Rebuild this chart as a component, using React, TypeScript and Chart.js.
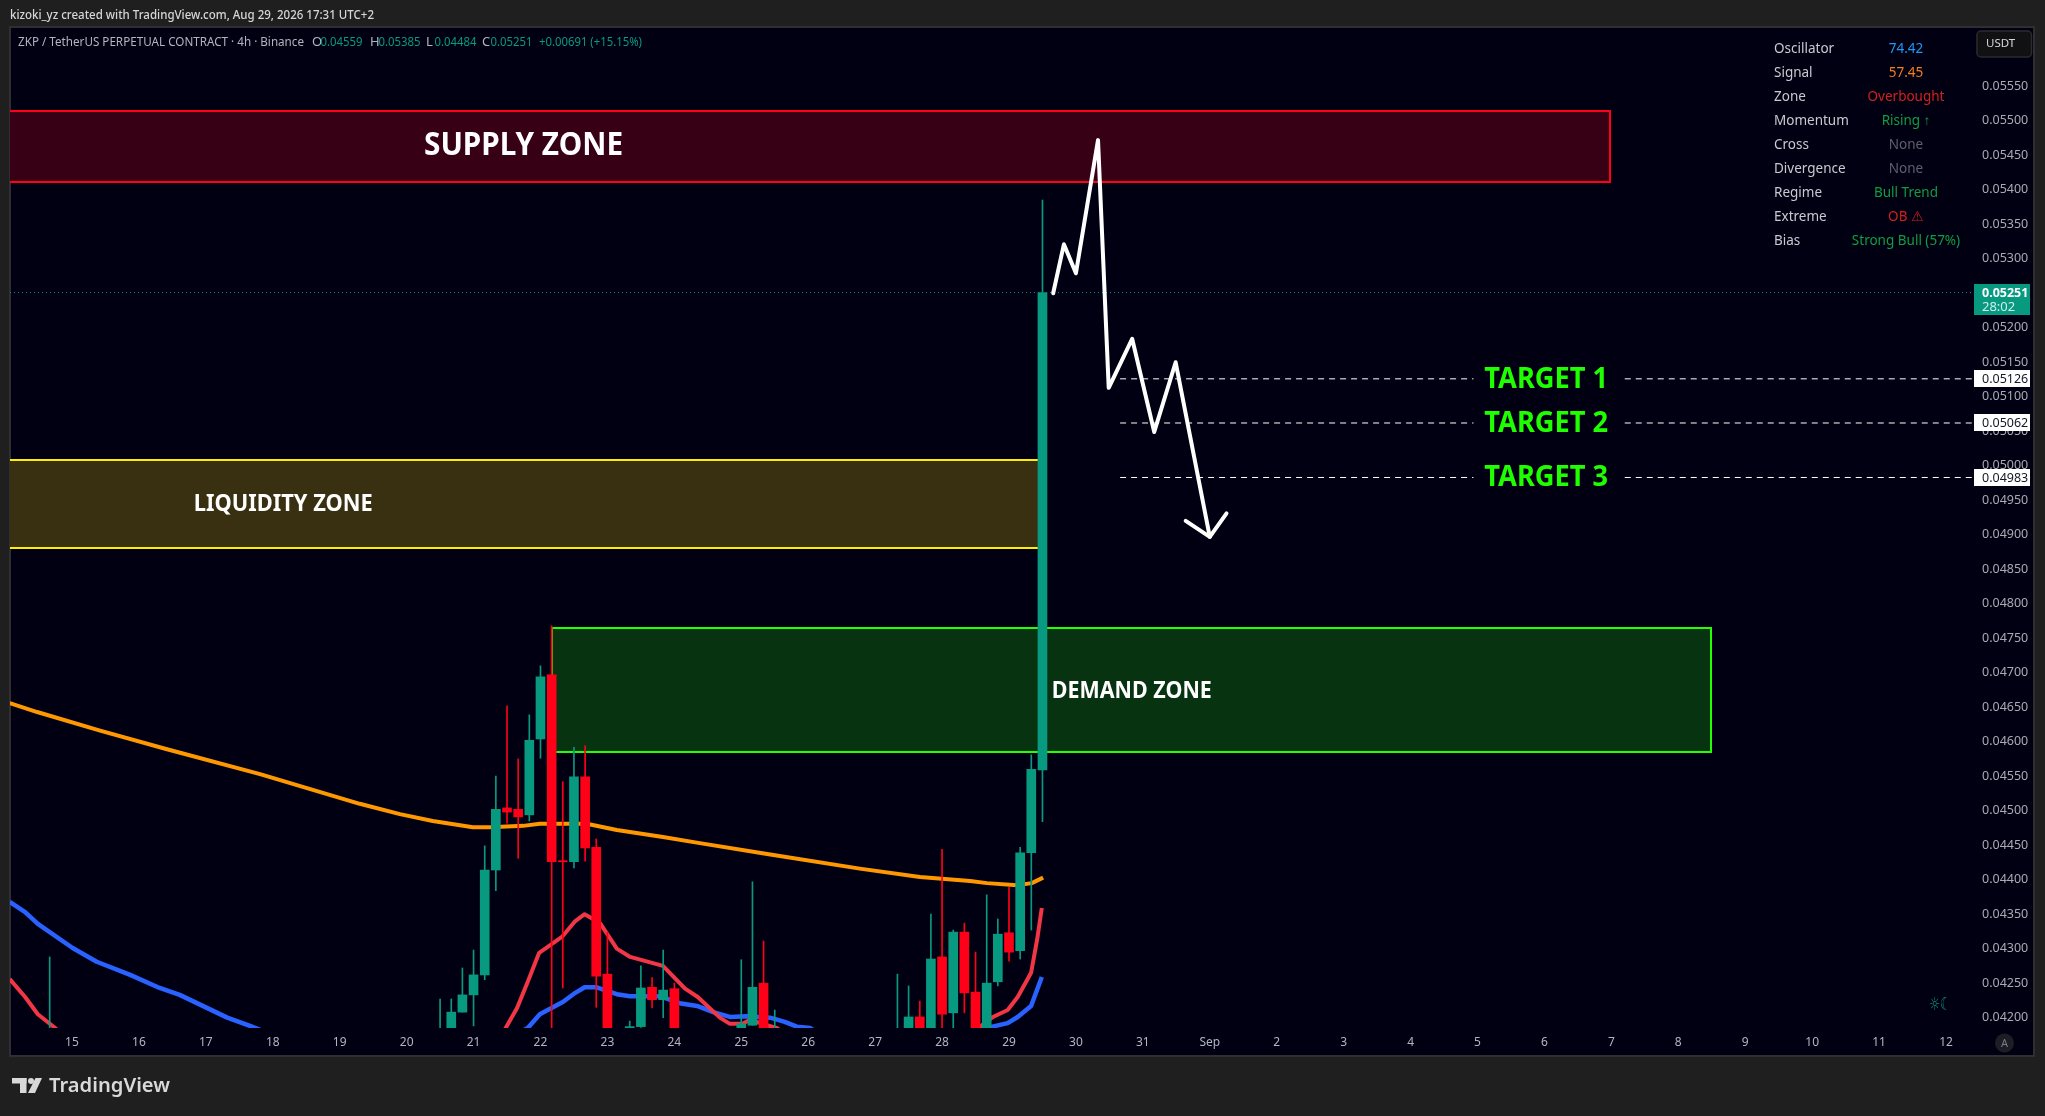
import React, { useEffect, useRef } from "react";
import { Chart, registerables } from "chart.js";

Chart.register(...registerables);

// ---- price axis / time axis
const priceMin = 0.04185;
const priceMax = 0.05636;
const dayMin = 14.074;
const dayMax = 43.418;
const dayTickLabels = ["15","16","17","18","19","20","21","22","23","24","25","26","27","28","29","30","31","Sep","2","3","4","5","6","7","8","9","10","11","12"];

// ---- candles (values below the visible window are estimates)
const candleDays = [14.667,20.5,20.667,20.833,21,21.167,21.333,21.5,21.667,21.833,22,22.167,22.333,22.5,22.667,22.833,23,23.333,23.5,23.667,23.833,24,25,25.167,25.333,25.5,27.333,27.5,27.667,27.833,28,28.167,28.333,28.5,28.667,28.833,29,29.167,29.333,29.5];
const candleOpen = [0.0417,0.0417,0.0417,0.04208,0.04233,0.04262,0.04414,0.04504,0.04502,0.04494,0.04604,0.04697,0.04427,0.04426,0.04549,0.04447,0.04263,0.0417,0.04187,0.04244,0.04226,0.04242,0.0417,0.04189,0.0425,0.0417,0.0417,0.0417,0.04201,0.0417,0.04288,0.04207,0.04324,0.04237,0.0417,0.04252,0.04323,0.04297,0.04439,0.04559];
const candleClose = [0.0418,0.0418,0.04208,0.04233,0.04262,0.04414,0.04502,0.04498,0.04491,0.04602,0.04694,0.04426,0.04426,0.04549,0.04446,0.0426,0.0417,0.04187,0.04243,0.04226,0.0424,0.0417,0.04191,0.04244,0.0417,0.0418,0.0418,0.04201,0.0417,0.04285,0.04205,0.04324,0.04236,0.0417,0.0425,0.04321,0.04295,0.04439,0.0456,0.05251];
const candleHigh = [0.04288,0.04227,0.04227,0.04272,0.04298,0.04449,0.0455,0.04652,0.04575,0.04639,0.0471,0.04768,0.04542,0.04592,0.04594,0.04459,0.04324,0.04195,0.04275,0.04258,0.04298,0.0425,0.04284,0.04397,0.04311,0.04211,0.04263,0.04246,0.04224,0.0435,0.04444,0.04327,0.04337,0.04295,0.04378,0.04343,0.04389,0.04447,0.04581,0.05385];
const candleLow = [0.0415,0.0415,0.0415,0.04208,0.04188,0.04255,0.04384,0.04482,0.04431,0.04485,0.04576,0.0415,0.04243,0.04417,0.04427,0.04215,0.0415,0.0415,0.04186,0.04214,0.042,0.0415,0.0415,0.04189,0.0415,0.0415,0.0415,0.0415,0.0415,0.0415,0.0415,0.0415,0.04207,0.0415,0.0415,0.04246,0.04282,0.04285,0.04327,0.04484];

// ---- moving averages
const orangeDays = [14.07,14.48,15.42,16.42,17.81,19.3,19.9,20.39,20.99,21.25,21.74,21.99,22.69,23.14,23.83,24.38,25.41,26.77,27.67,28.42,28.67,29.12,29.34,29.51];
const orangeVals = [0.04656,0.04643,0.04616,0.04589,0.04553,0.0451,0.04495,0.04485,0.04476,0.04476,0.04478,0.04481,0.04481,0.04472,0.04462,0.04453,0.04437,0.04416,0.04404,0.04398,0.04395,0.04392,0.04395,0.04403];
const blueDays = [14.07,14.3,14.49,15.01,15.37,15.87,16.31,16.61,17.32,17.66,17.9,19.8,21.81,21.99,22.34,22.52,22.66,22.84,23.14,23.34,23.79,24.08,24.34,24.58,24.83,25.08,25.43,25.65,25.83,26.03,27.5,28.75,28.98,29.13,29.33,29.49];
const blueVals = [0.04368,0.04353,0.04336,0.04301,0.04281,0.04262,0.04243,0.04233,0.042,0.04188,0.04179,0.0408,0.04185,0.04205,0.04223,0.04236,0.04244,0.04244,0.04234,0.04231,0.04231,0.04221,0.04217,0.04208,0.04201,0.04202,0.042,0.04194,0.04187,0.04185,0.0408,0.04187,0.04192,0.04201,0.04217,0.04259];
const redDays = [14.07,14.3,14.49,14.75,17,20.5,21.48,21.65,21.81,21.98,22.32,22.52,22.66,22.89,23.14,23.34,23.68,23.83,24.16,24.35,24.68,24.83,25.02,25.13,25.38,25.53,27.5,28.57,28.76,28.98,29.13,29.33,29.42,29.49];
const redVals = [0.04256,0.0423,0.04205,0.04185,0.0395,0.04,0.04185,0.04214,0.04252,0.04294,0.04317,0.0434,0.0435,0.04337,0.043,0.04288,0.04279,0.04275,0.04242,0.0423,0.042,0.04191,0.04191,0.04197,0.04189,0.04185,0.0405,0.04187,0.04201,0.04211,0.0423,0.04265,0.04313,0.04359];

// ---- hand-drawn forecast
const pathDays = [29.66,29.82,30.0,30.33,30.49,30.84,31.17,31.49,32.0];
const pathVals = [0.0525,0.05321,0.05279,0.05472,0.05113,0.05184,0.05049,0.0515,0.04897];
const arrowDays = [31.64,32.0,32.25];
const arrowVals = [0.0492,0.04897,0.04931];

// ---- levels and zones
const lastPrice = 0.05251;
const lastPriceLabel = "0.05251";
const countdownLabel = "28:02";
const targetPrices = [0.05126, 0.05062, 0.04983];
const targetLabels = ["TARGET 1", "TARGET 2", "TARGET 3"];
const targetLineDays = [30.66, 35.94, 38.2, 43.418];
const targetTextDay = 36.1;
const zoneNames = ["SUPPLY ZONE", "LIQUIDITY ZONE", "DEMAND ZONE"];
const zoneFromDay = [13.9, 13.9, 22.17];
const zoneToDay = [37.98, 29.5, 39.49];
const zoneTop = [0.05514, 0.05008, 0.04765];
const zoneBottom = [0.05411, 0.04881, 0.04585];
const zoneTextDay = [20.26, 16.82, 29.64];
const zoneTextPrice = [0.05465, 0.04946, 0.04675];

// ---- table
const tableNames = ["Oscillator","Signal","Zone","Momentum","Cross","Divergence","Regime","Extreme","Bias"];
const tableValues = ["74.42","57.45","Overbought","Rising ↑","None","None","Bull Trend","OB ⚠","Strong Bull (57%)"];
const tableColors = ["#2196f3","#f57c1f","#d3201f","#0f9d40","#5d606b","#5d606b","#0f9d40","#d3201f","#0f9d40"];

const FONT = '"Noto Sans", sans-serif';
const UP = "#089981";
const DOWN = "#ff0018";

const zip = (xs: number[], ys: number[]) => xs.map((x, i) => ({ x, y: ys[i] }));

function line(data: any[], color: string, width: number, order: number, extra: any = {}) {
  return { type: "line", data, borderColor: color, borderWidth: width, pointRadius: 0, tension: 0, spanGaps: false, order, borderJoinStyle: "round", ...extra };
}

const decor = {
  id: "decor",
  beforeDraw(chart: any) {
    const c = chart.ctx;
    c.save();
    c.fillStyle = "#1f1f1f";
    c.fillRect(0, 0, 2045, 1116);
    c.fillStyle = "#010013";
    c.fillRect(10, 27, 2024, 1029);
    c.strokeStyle = "#2e2e33";
    c.lineWidth = 2;
    c.strokeRect(10, 27, 2024, 1029);
    c.restore();
  },
  beforeDatasetsDraw(chart: any) {
    const { ctx: c, scales, chartArea: a } = chart;
    const fills = ["#380014", "#383010", "#073310"];
    const strokes = ["#ff0018", "#ffee00", "#22ff00"];
    c.save();
    c.beginPath();
    c.rect(a.left, a.top, a.right - a.left, a.bottom - a.top);
    c.clip();
    zoneNames.forEach((_, i) => {
      const x0 = Math.round(scales.x.getPixelForValue(zoneFromDay[i]));
      const x1 = Math.round(scales.x.getPixelForValue(zoneToDay[i]));
      const y0 = Math.round(scales.y.getPixelForValue(zoneTop[i]));
      const y1 = Math.round(scales.y.getPixelForValue(zoneBottom[i]));
      c.fillStyle = fills[i];
      c.fillRect(x0, y0, x1 - x0, y1 - y0);
      c.strokeStyle = strokes[i];
      c.lineWidth = 2;
      c.strokeRect(x0, y0, x1 - x0, y1 - y0);
    });
    c.restore();
  },
  afterDraw(chart: any) {
    const { ctx: c, scales } = chart;
    const T = (s: string, x: number, y: number, font: string, color: string, align: any = "left", maxW?: number) => {
      c.font = font;
      c.fillStyle = color;
      c.textAlign = align;
      c.textBaseline = "middle";
      if (maxW) c.fillText(s, x, y, maxW);
      else c.fillText(s, x, y);
    };
    c.save();
    // header
    T("kizoki_yz created with TradingView.com, Aug 29, 2026 17:31 UTC+2", 10, 15.5, `500 13px ${FONT}`, "#d6d6d6", "left", 364);
    T("ZKP / TetherUS PERPETUAL CONTRACT · 4h · Binance", 18, 42.5, `13px ${FONT}`, "#b2b5be", "left", 286);
    const ohlc: [string, string, number][] = [["O", "0.04559", 312], ["H", "0.05385", 370], ["L", "0.04484", 426], ["C", "0.05251", 482]];
    ohlc.forEach(([k, v, x]) => {
      T(k, x, 42.5, `13px ${FONT}`, "#b2b5be");
      T(v, x + 8.5, 42.5, `13px ${FONT}`, UP, "left", 42);
    });
    T("+0.00691 (+15.15%)", 539, 42.5, `13px ${FONT}`, UP, "left", 103);

    // zone labels
    const zoneFonts = [`bold 32px ${FONT}`, `bold 23.5px ${FONT}`, `bold 23.5px ${FONT}`];
    const zoneWidths = [199, 179, 160];
    zoneNames.forEach((name, i) => {
      T(name, scales.x.getPixelForValue(zoneTextDay[i]), scales.y.getPixelForValue(zoneTextPrice[i]) + 1, zoneFonts[i], "#ffffff", "left", zoneWidths[i]);
    });

    // target labels and price boxes
    targetPrices.forEach((p, i) => {
      const y = scales.y.getPixelForValue(p);
      T(targetLabels[i], scales.x.getPixelForValue(targetTextDay), y + 1, `bold 28px ${FONT}`, "#1eff00", "left", 124);
      c.fillStyle = "#ffffff";
      c.fillRect(1974, Math.round(y - 8.5), 56, 17);
      T(p.toFixed(5), 1982, y + 0.5, `12.5px ${FONT}`, "#131722");
    });

    // last price box
    const ly = scales.y.getPixelForValue(lastPrice);
    c.fillStyle = UP;
    c.fillRect(1974, Math.round(ly - 8.5), 56, 31);
    T(lastPriceLabel, 1982, ly + 0.5, `bold 12.5px ${FONT}`, "#ffffff");
    T(countdownLabel, 1982, ly + 14.5, `13px ${FONT}`, "#cfeee8");

    // status table
    tableNames.forEach((n, i) => {
      const y = 49.3 + i * 24;
      T(n, 1774, y, `13.5px ${FONT}`, "#c9cad0");
      T(tableValues[i], 1906, y, `13.5px ${FONT}`, tableColors[i], "center");
    });

    // unit button
    c.fillStyle = "#111114";
    c.strokeStyle = "#2b2b2e";
    c.lineWidth = 1.5;
    c.beginPath();
    c.roundRect(1977, 31, 54.5, 26, 4);
    c.fill();
    c.stroke();
    T("USDT", 1986, 44, `11.5px ${FONT}`, "#d6d6d6");

    // bottom-right controls
    T("☼☾", 1929, 1005, `18px "DejaVu Sans"`, "#0f8a75", "left", 22);
    c.fillStyle = "#1d1d26";
    c.beginPath();
    c.arc(2004.5, 1043, 9.5, 0, Math.PI * 2);
    c.fill();
    T("A", 2004.5, 1043.5, `11px ${FONT}`, "#787b86", "center");

    // brand
    c.fillStyle = "#d9d9d9";
    c.fillRect(12, 1078, 14.5, 5.5);
    c.fillRect(20, 1078, 6.5, 15);
    c.beginPath();
    c.arc(31, 1081, 3, 0, Math.PI * 2);
    c.fill();
    c.beginPath();
    c.moveTo(35.5, 1078);
    c.lineTo(42, 1078);
    c.lineTo(35, 1093);
    c.lineTo(28, 1093);
    c.closePath();
    c.fill();
    T("TradingView", 49, 1086, `600 20.5px ${FONT}`, "#d9d9d9", "left", 121);
    c.restore();
  },
};

export default function App() {
  const ref = useRef<HTMLCanvasElement | null>(null);
  useEffect(() => {
    document.body.style.margin = "0";
    document.body.style.background = "#1f1f1f";
    const bodies = candleDays.map((x, i) => ({ x, y: [candleOpen[i], candleClose[i]] }));
    const wicks = candleDays.map((x, i) => ({ x, y: [candleLow[i], candleHigh[i]] }));
    const colors = candleDays.map((_, i) => (candleClose[i] >= candleOpen[i] ? UP : DOWN));
    const datasets: any[] = [
      line([{ x: dayMin, y: lastPrice }, { x: dayMax, y: lastPrice }], UP, 1, 6, { borderDash: [1, 3] }),
      line(zip(orangeDays, orangeVals), "#ff9800", 4, 5),
      line(zip(blueDays, blueVals), "#2962ff", 4.5, 5),
      line(zip(redDays, redVals), "#f23645", 4, 4),
      { type: "bar", data: wicks, backgroundColor: colors, barThickness: 1, grouped: false, order: 3 },
      { type: "bar", data: bodies, backgroundColor: colors, barThickness: 9, grouped: false, minBarLength: 1, order: 2 },
      line(zip(pathDays, pathVals), "#ffffff", 4, 1, { borderCapStyle: "round" }),
      line(zip(arrowDays, arrowVals), "#ffffff", 4, 1, { borderCapStyle: "round" }),
    ];
    targetPrices.forEach((p) => {
      const pts = [
        { x: targetLineDays[0], y: p },
        { x: targetLineDays[1], y: p },
        { x: (targetLineDays[1] + targetLineDays[2]) / 2, y: null },
        { x: targetLineDays[2], y: p },
        { x: targetLineDays[3], y: p },
      ];
      datasets.push(line(pts, "#ffffff", 1, 1, { borderDash: [6, 5] }));
    });
    const chart = new Chart(ref.current as HTMLCanvasElement, {
      type: "bar",
      data: { datasets },
      plugins: [decor],
      options: {
        animation: false,
        responsive: false,
        devicePixelRatio: 1,
        events: [],
        layout: { padding: { left: 10, top: 27, right: 11, bottom: 60 } },
        plugins: { legend: { display: false }, tooltip: { enabled: false } },
        scales: {
          x: {
            type: "linear",
            position: "bottom",
            min: dayMin,
            max: dayMax,
            offset: false,
            grid: { display: false, drawTicks: false },
            border: { display: false },
            afterFit: (s: any) => { s.height = 28; },
            ticks: {
              stepSize: 1,
              autoSkip: false,
              includeBounds: false,
              maxRotation: 0,
              padding: 7,
              color: "#b2b5be",
              font: { family: "Noto Sans", size: 12 },
              callback: (v: any) => dayTickLabels[Math.round(v) - 15] ?? "",
            },
          },
          y: {
            type: "linear",
            position: "right",
            min: priceMin,
            max: priceMax,
            beginAtZero: false,
            grid: { display: false, drawTicks: false },
            border: { display: false },
            afterFit: (s: any) => { s.width = 60; },
            ticks: {
              stepSize: 0.0005,
              autoSkip: false,
              includeBounds: false,
              padding: 8,
              color: "#a9abb2",
              font: { family: "Noto Sans", size: 12.5 },
              callback: (v: any) => Number(v).toFixed(5),
            },
          },
        },
      } as any,
    } as any);
    return () => chart.destroy();
  }, []);
  return (
    <div style={{ position: "absolute", left: 0, top: 0, width: 2045, height: 1116 }}>
      <canvas ref={ref} width={2045} height={1116} style={{ display: "block" }} />
    </div>
  );
}
